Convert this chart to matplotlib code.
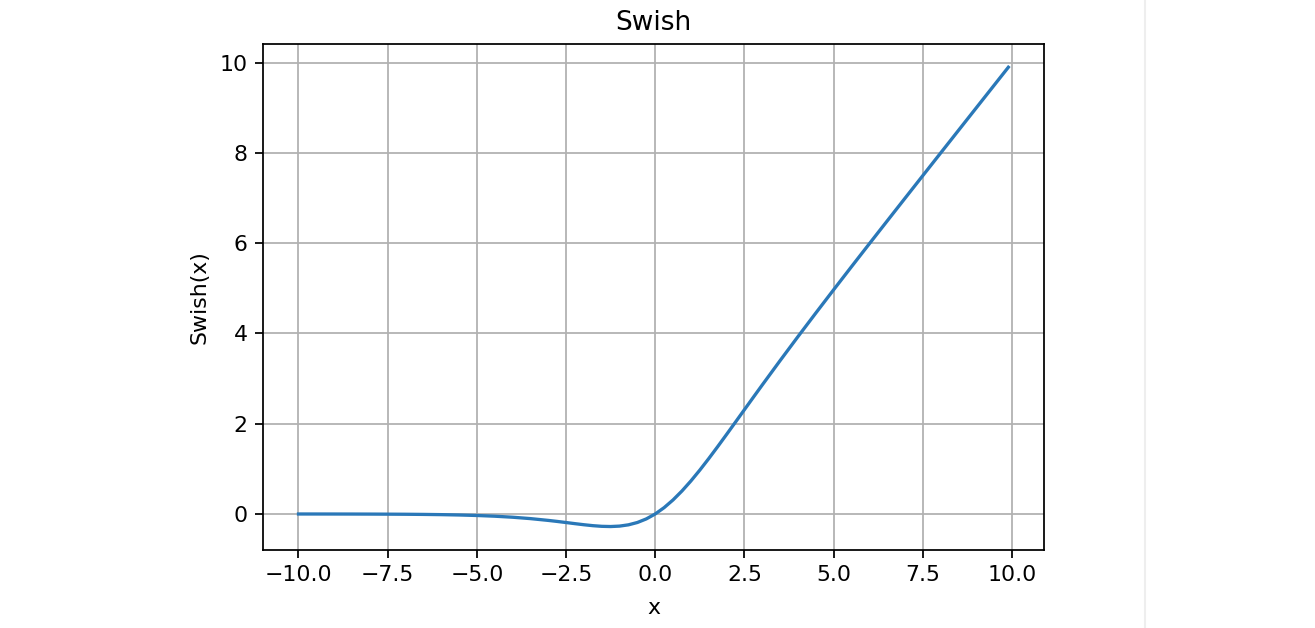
import matplotlib
matplotlib.use("Agg")
import matplotlib.pyplot as plt
from matplotlib.lines import Line2D

# Values
x_vals = [-10.0, -9.5, -9.0, -8.5, -8.0, -7.5, -7.0, -6.5, -6.0, -5.5, -5.0,
          -4.5, -4.0, -3.5, -3.0, -2.75, -2.5, -2.25, -2.0, -1.75, -1.5, -1.25,
          -1.0, -0.75, -0.5, -0.25, 0.0, 0.25, 0.5, 0.75, 1.0, 1.25, 1.5, 1.75,
          2.0, 2.25, 2.5, 2.75, 3.0, 3.5, 4.0, 4.5, 5.0, 5.5, 6.0, 6.5, 7.0,
          7.5, 8.0, 8.5, 9.0, 9.5, 9.9]
y_vals = [-0.0005, -0.0007, -0.0011, -0.0017, -0.0027, -0.0042, -0.0064,
          -0.0098, -0.0148, -0.0224, -0.0335, -0.0495, -0.0719, -0.1026,
          -0.1423, -0.1652, -0.1896, -0.2145, -0.2384, -0.2591, -0.2736,
          -0.2784, -0.2689, -0.2406, -0.1888, -0.1095, 0.0, 0.1405, 0.3112,
          0.5094, 0.7311, 0.9716, 1.2264, 1.4909, 1.7616, 2.0355, 2.3103,
          2.5848, 2.8577, 3.3974, 3.9281, 4.4505, 4.9665, 5.4776, 5.9852,
          6.4902, 6.9936, 7.4959, 7.9973, 8.4983, 8.9989, 9.4993, 9.8995]

title = "Swish"
xlabel = "x"
ylabel = "Swish(x)"

s = 1.58
fig = plt.figure(figsize=(13.15, 6.28), dpi=100)
ax = fig.add_axes([0.2, 0.125, 0.5938, 0.8045])
ax.plot(x_vals, y_vals, color="#2a78b8", linewidth=1.5 * s)
ax.grid(True, color="#b0b0b0", linewidth=0.8 * s)
ax.set_title(title, fontsize=12 * s, pad=10.5)
ax.set_xlabel(xlabel, fontsize=10 * s, labelpad=9.5)
ax.set_ylabel(ylabel, fontsize=10 * s, labelpad=7)
ax.tick_params(labelsize=10 * s, width=0.8 * s, length=3.5 * s, pad=3.5 * s)
for sp in ax.spines.values():
    sp.set_linewidth(0.8 * s)

fig.add_artist(Line2D([1145 / 1315, 1145 / 1315], [0, 1], transform=fig.transFigure,
                      color="#eeeeee", linewidth=1.5))

fig.savefig("out.png", dpi=100)
